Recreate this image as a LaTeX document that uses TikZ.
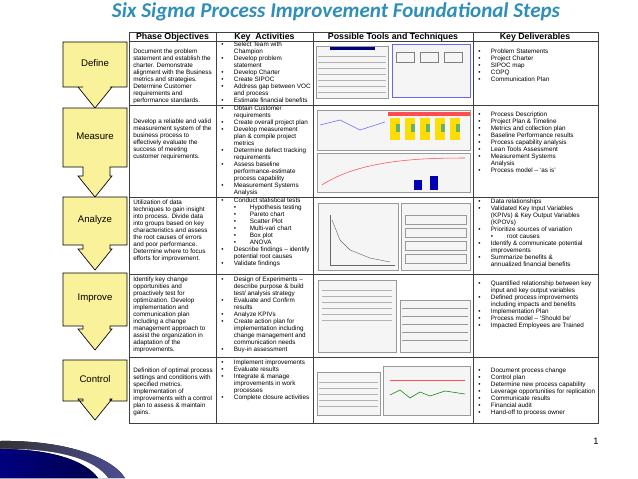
\documentclass[tikz,border=0pt]{standalone}
\usepackage{fontspec}
\setmainfont{Liberation Sans}
\newfontfamily\titlefont{Carlito}
\usetikzlibrary{positioning}
\definecolor{ttl}{HTML}{2F8FB8}
\definecolor{yel}{HTML}{FAF29A}
\newcommand{\bl}[1]{\makebox[9.5pt][l]{\textbullet}#1}
\newcommand{\ct}[1]{\hspace*{9.5pt}#1}
\newcommand{\sbl}[1]{\hspace*{9.5pt}\makebox[12pt][l]{\textbullet}#1}
\begin{document}
\begin{tikzpicture}[x=0.75pt,y=-0.75pt,
  txt/.style={font=\fontsize{4.75}{5.25}\selectfont,align=left,anchor=north west,inner sep=0pt},
  hdr/.style={font=\bfseries\fontsize{6.6}{7}\selectfont,inner sep=0pt},
  phase/.style={draw=black,fill=yel,line width=0.5pt},
  lbl/.style={font=\fontsize{7.2}{8}\selectfont,inner sep=0pt},
  grid/.style={line width=0.6pt,draw=black!75},
  shot/.style={draw=black!40,fill=black!4,line width=0.3pt}]
\useasboundingbox (0,0) rectangle (638,478);
\fill[white] (0,0) rectangle (638,478);
% swoosh
\fill[left color=black!80,right color=blue!40!black!70] (0,441) .. controls (60,440) and (110,455) .. (125,478) -- (0,478) -- cycle;
\fill[white] (0,449) .. controls (60,448) and (95,460) .. (108,478) -- (0,478) -- cycle;
\fill[left color=blue!50!black,right color=blue!30!black] (0,449) .. controls (50,449) and (85,460) .. (98,478) -- (0,478) -- cycle;
\node[font=\titlefont\bfseries\itshape\fontsize{15.8}{17}\selectfont,text=ttl,inner sep=0] (title) at (336,12) {Six Sigma Process Improvement Foundational Steps};
\node[font=\fontsize{7}{8}\selectfont,inner sep=0] (pg) at (596,441) {1};
% phase arrows
\foreach \n/\t/\b/\tip/\lab in {def/42/87/108/Define,mea/108/167/197/Measure,ana/197/245/270/Analyze,imp/273/326/350/Improve,con/360/401/420/Control}{
  \draw[phase] (63,\t) -- (127,\t) -- (127,\b) -- (110,\b) -- (110,\tip-21) -- (112,\tip-21) -- (95,\tip) -- (78,\tip-21) -- (83,\tip-21) -- (83,\b) -- (63,\b) -- cycle;
  \node[lbl] (\n) at (95,{(\t+\b)/2-1}) {\lab};
}
% table grid
\draw[grid] (129,32) rectangle (598,423);
\foreach \y in {41,105,197,274,357} \draw[grid] (129,\y) -- (598,\y);
\foreach \x in {216,313,473} \draw[grid] (\x,32) -- (\x,423);
\node[hdr] (h1) at (172.5,37) {Phase Objectives};
\node[hdr] (h2) at (264.5,37) {Key \ Activities};
\node[hdr] (h3) at (393,37) {Possible Tools and Techniques};
\node[hdr] (h4) at (535,37) {Key Deliverables};
% objectives
\node[txt] (o1) at (133,49) {Document the problem\\statement and establish the\\charter. Demonstrate\\alignment with the Business\\metrics and strategies.\\Determine Customer\\requirements and\\performance standards.};
\node[txt] (o2) at (133,119) {Develop a reliable and valid\\measurement system of the\\business process to\\effectively evaluate the\\success of meeting\\customer requirements.};
\node[txt] (o3) at (133,200) {Utilization of data\\techniques to gain insight\\into process. Divide data\\into groups based on key\\characteristics and assess\\the root causes of errors\\and poor performance.\\Determine where to focus\\efforts for improvement.};
\node[txt] (o4) at (133,277) {Identify key change\\opportunities and\\proactively test for\\optimization. Develop\\implementation and\\communication plan\\including a change\\management approach to\\assist the organization in\\adaptation of the\\improvements.};
\node[txt] (o5) at (133,368) {Definition of optimal process\\settings and conditions with\\specified metrics.\\Implementation of\\improvements with a control\\plan to assess \& maintain\\gains.};
% activities
\node[txt] (a1) at (221,42) {\bl{Select Team with}\\\ct{Champion}\\\bl{Develop problem}\\\ct{statement}\\\bl{Develop Charter}\\\bl{Create SIPOC}\\\bl{Address gap between VOC}\\\ct{and process}\\\bl{Estimate financial benefits}};
\node[txt] (a2) at (221,106) {\bl{Obtain Customer}\\\ct{requirements}\\\bl{Create overall project plan}\\\bl{Develop measurement}\\\ct{plan \& compile project}\\\ct{metrics}\\\bl{Determine defect tracking}\\\ct{requirements}\\\bl{Assess baseline}\\\ct{performance-estimate}\\\ct{process capability}\\\bl{Measurement Systems}\\\ct{Analysis}};
\node[txt] (a3) at (221,198) {\bl{Conduct statistical tests}\\\sbl{Hypothesis testing}\\\sbl{Pareto chart}\\\sbl{Scatter Plot}\\\sbl{Multi-vari chart}\\\sbl{Box plot}\\\sbl{ANOVA}\\\bl{Describe findings -- identify}\\\ct{potential root causes}\\\bl{Validate findings}};
\node[txt] (a4) at (221,277) {\bl{Design of Experiments --}\\\ct{describe purpose \& build}\\\ct{test/ analysis strategy}\\\bl{Evaluate and Confirm}\\\ct{results}\\\bl{Analyze KPIVs}\\\bl{Create action plan for}\\\ct{implementation including}\\\ct{change management and}\\\ct{communication needs}\\\bl{Buy-in assessment}};
\node[txt] (a5) at (221,360) {\bl{Implement improvements}\\\bl{Evaluate results}\\\bl{Integrate \& manage}\\\ct{improvements in work}\\\ct{processes}\\\bl{Complete closure activities}};
% deliverables
\node[txt] (d1) at (478,49) {\bl{Problem Statements}\\\bl{Project Charter}\\\bl{SIPOC map}\\\bl{COPQ}\\\bl{Communication Plan}};
\node[txt] (d2) at (478,112) {\bl{Process Description}\\\bl{Project Plan \& Timeline}\\\bl{Metrics and collection plan}\\\bl{Baseline Performance results}\\\bl{Process capability analysis}\\\bl{Lean Tools Assessment}\\\bl{Measurement Systems}\\\ct{Analysis}\\\bl{Process model -- `as is'}};
\node[txt] (d3) at (478,199) {\bl{Data relationships}\\\bl{Validated Key Input Variables}\\\ct{(KPIVs) \& Key Output Variables}\\\ct{(KPOVs)}\\\bl{Prioritize sources of variation}\\\sbl{root causes}\\\bl{Identify \& communicate potential}\\\ct{improvements}\\\bl{Summarize benefits \&}\\\ct{annualized financial benefits}};
\node[txt] (d4) at (478,281) {\bl{Quantified relationship between key}\\\ct{input and key output variables}\\\bl{Defined process improvements}\\\ct{including impacts and benefits}\\\bl{Implementation Plan}\\\bl{Process model -- `Should be'}\\\bl{Impacted Employees are Trained}};
\node[txt] (d5) at (478,368) {\bl{Document process change}\\\bl{Control plan}\\\bl{Determine new process capability}\\\bl{Leverage opportunities for replication}\\\bl{Communicate results}\\\bl{Financial audit}\\\bl{Hand-off to process owner}};
% tool screenshots (approximate)
\draw[shot] (316,46) rectangle (388,98);
\fill[blue!50!black] (330,47) rectangle (375,50);
\foreach \y in {56,62,68,74,80,86,92} \draw[black!30,line width=0.3pt] (318,\y) -- (386,\y);
\draw[shot,draw=blue!60] (392,44) rectangle (470,97);
\foreach \x in {396,420,444} \draw[black!50,line width=0.3pt] (\x,52) rectangle (\x+18,62);
\draw[shot] (317,110) rectangle (470,150);
\fill[red!70] (388,112) rectangle (470,116);
\foreach \x in {390,405,420,435,450} \fill[yellow!80!orange] (\x,118) rectangle (\x+10,140);
\foreach \x in {396,411,426,441,456} \fill[green!50!black!60] (\x,124) rectangle (\x+4,132);
\draw[blue!60,line width=0.4pt] (320,125) -- (340,120) -- (360,130) -- (385,122);
\draw[shot] (317,153) rectangle (470,192);
\draw[red!70,line width=0.4pt] (322,185) .. controls (360,160) and (420,158) .. (465,158);
\fill[blue!70!black] (414,180) rectangle (422,190);
\fill[blue!70!black] (430,176) rectangle (438,190);
\draw[shot] (318,203) rectangle (398,270);
\draw[black!60,line width=0.3pt] (330,215) -- (330,265) -- (395,265);
\draw[black!60,line width=0.3pt] (332,220) -- (340,240) -- (350,250) -- (370,258) -- (390,262);
\draw[shot] (401,203) rectangle (470,270);
\foreach \y in {215,228,241,254} \draw[black!40,line width=0.3pt] (405,\y) rectangle (466,\y+9);
\draw[shot] (318,280) rectangle (396,352);
\foreach \y in {290,296,302,308,314,320} \draw[black!30,line width=0.3pt] (322,\y) -- (392,\y);
\draw[shot] (400,300) rectangle (470,352);
\foreach \y in {308,316,324,332,340} \draw[black!40,line width=0.3pt] (402,\y) -- (468,\y);
\draw[shot] (317,372) rectangle (380,415);
\foreach \y in {382,388,394,400,406} \draw[black!30,line width=0.3pt] (319,\y) -- (378,\y);
\draw[shot] (383,366) rectangle (470,415);
\draw[red!70,line width=0.4pt] (390,380) -- (465,380);
\draw[green!50!black,line width=0.4pt] (390,395) -- (400,390) -- (410,398) -- (420,392) -- (430,396) -- (445,391) -- (465,394);
\end{tikzpicture}
\end{document}
